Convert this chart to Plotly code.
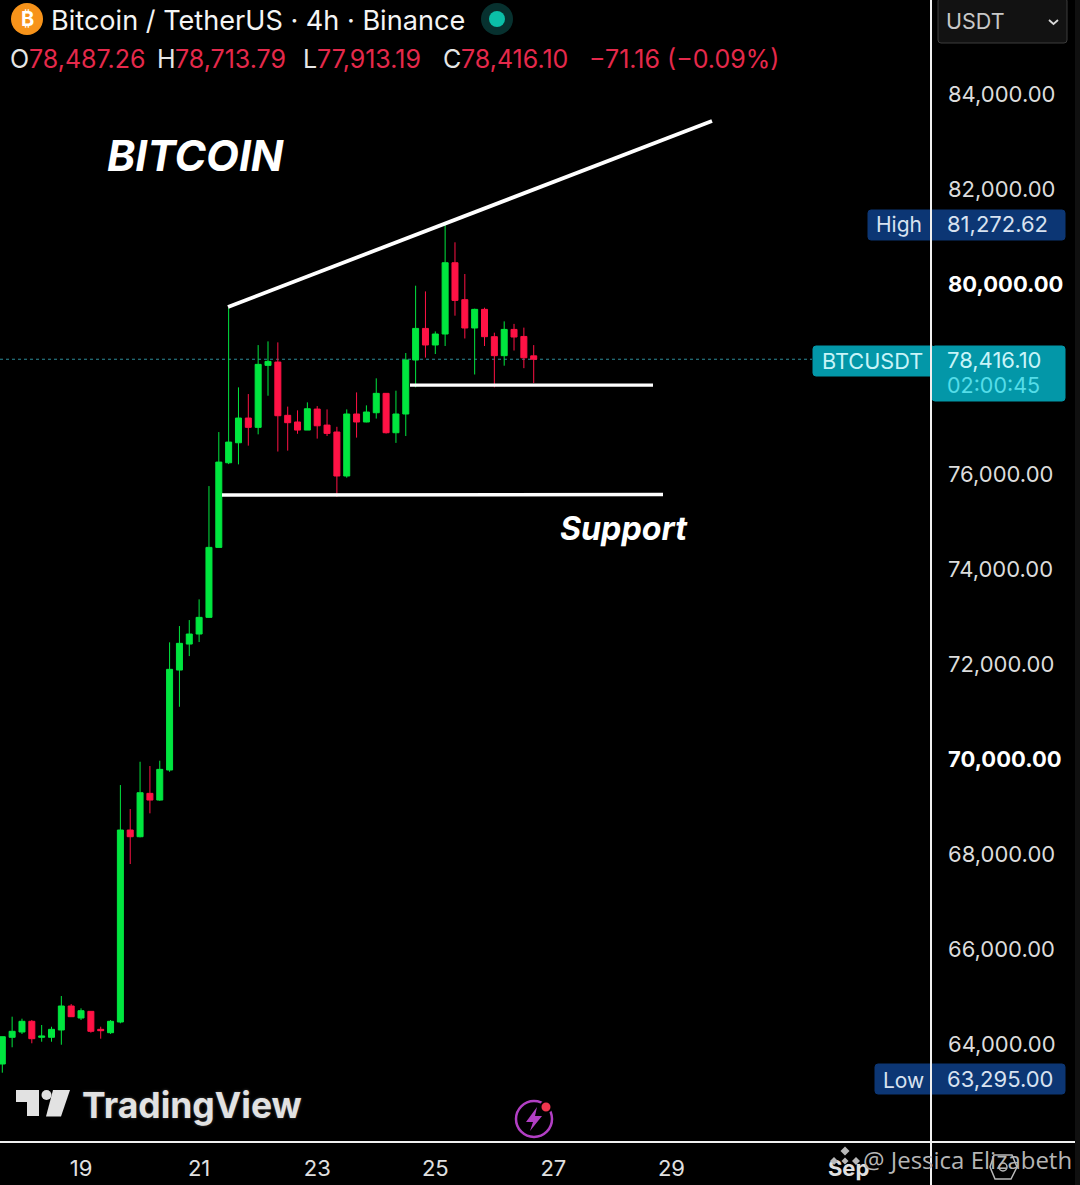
import pandas as pd
import plotly.graph_objects as go

START = "2024-08-17 16:00"
opens = [63579,64141,64253,64478,64141,64141,64295,64800,64547,64688,64309,64238,64463,68505,68364,69277,69136,69768,71873,72420,72631,72982,74455,76237,76658,77178,76982,78287,78357,77235,77095,76925,77367,77030,76884,75958,77263,77095,77290,77698,76869,77263,78400,79065,78716,78947,80448,79670,79074,79466,78891,78491,79044,78896,78487.26]
highs = [64154,64575,64533,64505,64400,64364,65010,64842,64751,64695,64364,64505,69452,68947,69942,69852,69964,72456,72799,72925,73361,75746,76883,79493,77824,77683,78714,78792,78771,77419,77340,77508,77430,77360,76994,77360,77718,77445,78014,77704,77754,78547,79964,79844,79002,81272.62,80878,80210,79481,79502,78975,79213,79160,79082,78713.79]
lows = [63396,63931,64211,64015,64048,64048,63985,64575,64505,64238,64112,64211,64436,67789,68351,68856,69121,69731,71100,72167,72462,72974,74455,76209,76203,76597,76835,77648,76473,76492,76847,76925,76745,76800,75522,75922,76766,77088,77167,76852,76655,76800,77825,78451,78526,78695,79333,78853,78095,78695,77825,78280,78600,78228,77913.19]
closes = [64154,64267,64478,64112,64168,64309,64800,64575,64701,64267,64280,64478,68505,68364,69290,69136,69782,71888,72435,72631,72982,74455,76251,76672,77178,76982,78308,78371,77227,77080,76925,77374,77015,76855,75958,77263,77095,77305,77698,76869,77263,78400,79065,78716,78947,80448,79655,79074,79466,78891,78491,79044,78884,78447,78416.10]

price_ticks = [64000,66000,68000,70000,72000,74000,76000,80000,82000,84000]
price_labels = ["64,000.00","66,000.00","68,000.00",'<b style="color:#fff">70,000.00</b>',"72,000.00","74,000.00","76,000.00",'<b style="color:#fff">80,000.00</b>',"82,000.00","84,000.00"]
date_ticks = ["2024-08-19","2024-08-21","2024-08-23","2024-08-25","2024-08-27","2024-08-29","2024-09-01"]
date_labels = ["19","21","23","25","27","29","<b>Sep</b>"]

trend_x = ["2024-08-21 11:44","2024-08-29 16:28"]
trend_y = [79516,83432]
support_low_x = ["2024-08-21 09:18","2024-08-28 20:33"]
support_low_y = [75557,75567]
support_high_x = ["2024-08-24 13:43","2024-08-28 16:29"]
support_high_y = [77872,77872]
last_price = 78416.10

W, H = 1080, 1185
PL, PB = 931, 1142
FONT = "Inter"
GREEN, RED = "#00E63F", "#FF1245"

def px(x): return x / PL
def py(y): return 1 - y / PB

fig = go.Figure(go.Candlestick(
    x=pd.date_range(START, periods=len(opens), freq="4h"),
    open=opens, high=highs, low=lows, close=closes,
    increasing=dict(line=dict(color=GREEN, width=1), fillcolor=GREEN),
    decreasing=dict(line=dict(color=RED, width=1), fillcolor=RED),
    whiskerwidth=0, showlegend=False, hoverinfo="skip",
))

shapes = []
def line_data(xs, ys, width, color="#fff", **kw):
    shapes.append(dict(type="line", xref="x", yref="y", x0=xs[0], x1=xs[1], y0=ys[0], y1=ys[1],
                       line=dict(color=color, width=width), **kw))
def rect(x0, y0, x1, y1, fill, line=None):
    r = 3
    p = (f"M{px(x0+r)},{py(y0)} L{px(x1-r)},{py(y0)} Q{px(x1)},{py(y0)} {px(x1)},{py(y0+r)} "
         f"L{px(x1)},{py(y1-r)} Q{px(x1)},{py(y1)} {px(x1-r)},{py(y1)} L{px(x0+r)},{py(y1)} "
         f"Q{px(x0)},{py(y1)} {px(x0)},{py(y1-r)} L{px(x0)},{py(y0+r)} Q{px(x0)},{py(y0)} {px(x0+r)},{py(y0)} Z")
    shapes.append(dict(type="path", xref="paper", yref="paper", path=p, fillcolor=fill,
                       line=dict(color=line or fill, width=1)))
def poly(pts, fill=None, line=None, width=1.5, close=True):
    p = "M" + " L".join(f"{px(a)},{py(b)}" for a, b in pts) + (" Z" if close else "")
    shapes.append(dict(type="path", xref="paper", yref="paper", path=p, fillcolor=fill or "rgba(0,0,0,0)",
                       line=dict(color=line or "rgba(0,0,0,0)", width=width if line else 0)))
def circle(cx, cy, r, fill=None, line=None, width=1.5):
    shapes.append(dict(type="circle", xref="paper", yref="paper", x0=px(cx-r), x1=px(cx+r), y0=py(cy-r), y1=py(cy+r),
                       fillcolor=fill or "rgba(0,0,0,0)", line=dict(color=line or "rgba(0,0,0,0)", width=width if line else 0)))
def hline(x0, x1, y, color, width, **kw):
    shapes.append(dict(type="line", xref="paper", yref="paper", x0=px(x0), x1=px(x1), y0=py(y), y1=py(y),
                       line=dict(color=color, width=width), **kw))

# price line
shapes.append(dict(type="line", xref="paper", yref="y", x0=0, x1=px(812), y0=last_price, y1=last_price,
                   line=dict(color="#2E8C9A", width=1, dash="dot"), layer="below"))
# drawings
line_data(trend_x, trend_y, 3.8)
line_data(support_low_x, support_low_y, 3.4)
line_data(support_high_x, support_high_y, 3.4)

# side labels
rect(868, 210, 1065, 240, "#0C3674")
rect(813, 346, 935, 376, "#0397A8")
rect(932, 346, 1065, 401, "#0397A8")
rect(875, 1064, 1065, 1094, "#0C3674")
# price-scale selector
rect(938, -2, 1067, 43, "#121212", "#3c3c3c")
poly([(1049, 20), (1053.5, 24), (1058, 20)], line="#d8d8d8", width=1.8, close=False)
# frame
hline(0, 1075, PB, "#f0f0f0", 2)
shapes.append(dict(type="line", xref="paper", yref="paper", x0=px(PL), x1=px(PL), y0=py(0), y1=py(H),
                   line=dict(color="#f0f0f0", width=2)))
shapes.append(dict(type="rect", xref="paper", yref="paper", x0=px(1075), x1=px(1081), y0=py(0), y1=py(H),
                   fillcolor="#101010", line=dict(width=0)))
# header icons
circle(27, 19, 16, fill="#F7931A")
circle(497, 19, 16, fill="#07312F")
circle(497, 19, 8, fill="#0BBFA8")
# TradingView logo
TV = "#E2E2E2"
poly([(16, 1090), (39, 1090), (39, 1116), (27, 1116), (27, 1102), (16, 1102)], fill=TV)
circle(46.5, 1095, 5, fill=TV)
poly([(53, 1090), (70, 1090), (61, 1116.5), (46, 1116.5)], fill=TV)
# lightning icon
circle(534, 1119, 18, line="#B23FC4", width=2.5)
poly([(537, 1107), (526, 1122), (533, 1122), (530, 1131), (542, 1116), (535, 1116)], fill="#B23FC4")
circle(546, 1107, 5.5, fill="#F0364F", line="#000", width=2)
# watermark icons
WM = "#B9B9B9"
for cx, cy, r in [(845, 1151, 4.5), (834, 1161, 4), (856, 1161, 4), (845, 1161, 3.5)]:
    poly([(cx, cy-r), (cx+r, cy), (cx, cy+r), (cx-r, cy)], fill=WM)
poly([(994, 1155), (1012, 1155), (1017, 1167), (1011, 1179), (995, 1179), (990, 1167)], line=WM, width=1.5)
circle(1003, 1167, 4, line=WM, width=1.5)

annotations = []
def text(x, y, s, size, color="#fff", anchor="left", weight=None, italic=False, family=FONT, shadow=None):
    f = dict(family=family, size=size, color=color)
    if weight: f["weight"] = weight
    if italic: f["style"] = "italic"
    if shadow: f["shadow"] = shadow
    annotations.append(dict(xref="paper", yref="paper", x=px(x), y=py(y), text=s, showarrow=False,
                            xanchor=anchor, yanchor="middle", align="left", borderpad=0, borderwidth=0, font=f))

text(51, 20, "Bitcoin / TetherUS · 4h · Binance", 27.1, "#f4f4f4")
text(27, 19, "₿", 20, "#fff", anchor="center", weight=700)
LAB, VAL = "#e6e6e6", "#E5294B"
for x, s, c in [(10, "O", LAB), (29, "78,487.26", VAL), (157, "H", LAB), (175, "78,713.79", VAL),
                (303, "L", LAB), (317, "77,913.19", VAL), (443, "C", LAB), (461, "78,416.10", VAL),
                (589, "−71.16 (−0.09%)", VAL)]:
    text(x, 59, s, 25, c)
text(107, 156, "BITCOIN", 42.7, "#fff", weight=700, italic=True)
text(560, 528, "Support", 32.2, "#fff", weight=700, italic=True)
text(946, 21, "USDT", 21.5, "#c8c8c8")
text(876, 224, "High", 21, "#d8e2f0")
text(947, 224, "81,272.62", 22, "#d8e2f0")
text(822, 361, "BTCUSDT", 21.7, "#c8f4f8")
text(947, 360, "78,416.10", 22, "#c8f4f8")
text(947, 385, "02:00:45", 21.5, "#55DDE8")
text(883, 1080, "Low", 21, "#d8e2f0")
text(947, 1079, "63,295.00", 22, "#d8e2f0")
text(82, 1105, "TradingView", 35.5, TV, weight=700, shadow="0 0 3px #444")
text(863, 1159, "@ Jessica Elizabeth", 24, "#b5b5b5", family="Open Sans")

fig.update_layout(
    width=W, height=H, margin=dict(l=0, r=W-PL, t=0, b=H-PB), autosize=False,
    paper_bgcolor="#000", plot_bgcolor="#000", showlegend=False,
    shapes=shapes, annotations=annotations, boxgap=0.39, boxgroupgap=0,
    font=dict(family=FONT, color="#e0e0e0"),
    xaxis=dict(type="date", range=["2024-08-17 15:04", "2024-09-02 09:29"], rangeslider=dict(visible=False),
               showgrid=False, zeroline=False, showline=False, ticks="", tickmode="array",
               tickvals=date_ticks, ticktext=date_labels, tickfont=dict(size=22, color="#e0e0e0"), ticklabelstandoff=11),
    yaxis=dict(side="right", range=[61937, 85979], showgrid=False, zeroline=False, showline=False, ticks="",
               tickmode="array", tickvals=price_ticks, ticktext=price_labels,
               tickfont=dict(size=22, color="#dcdcdc"), ticklabelstandoff=16),
)
fig.write_html("out.html", config=dict(displayModeBar=False),
               post_script="document.body.style.margin='0';document.body.style.background='#000';document.documentElement.style.overflow='hidden';")
